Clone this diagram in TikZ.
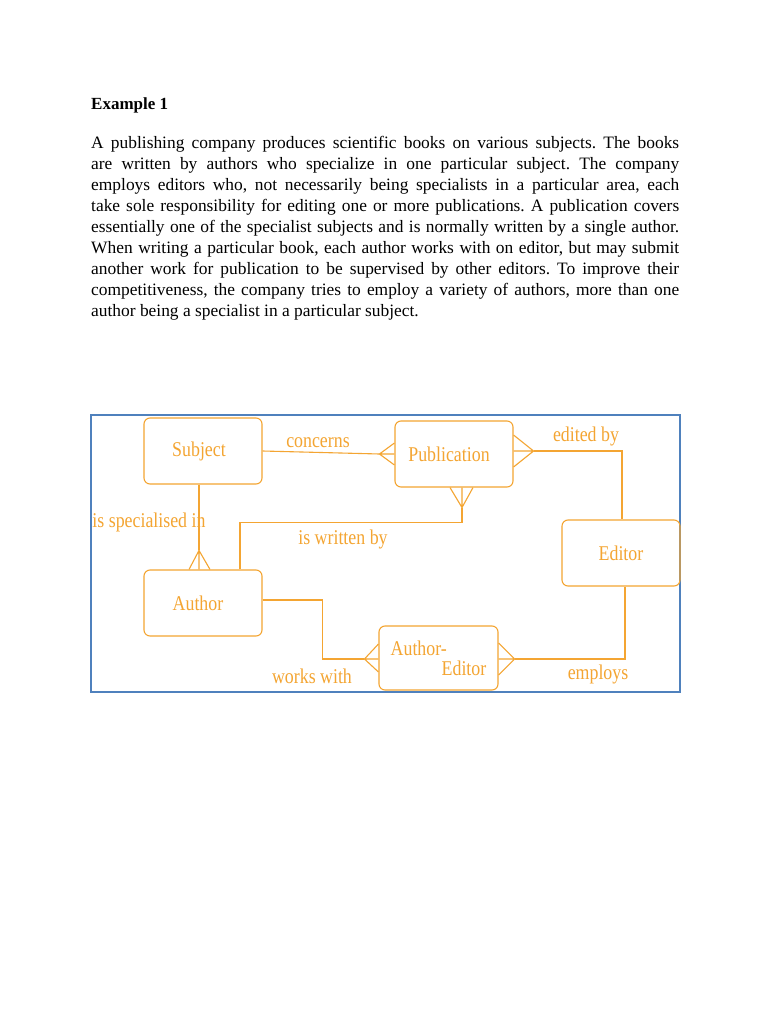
\documentclass[tikz,border=0pt]{standalone}
\usepackage{fontspec}
\setmainfont{Liberation Serif}
\newfontfamily\erfont[FakeStretch=0.85]{Liberation Serif}
\usetikzlibrary{calc}

\definecolor{erorange}{RGB}{244,165,50}
\definecolor{frameblue}{RGB}{79,129,189}

\tikzset{
  entity/.style={draw=erorange, line width=1.1pt, rounded corners=6pt,
    minimum width=118pt, minimum height=66pt, text=erorange,
    font=\erfont\fontsize{21}{20}\selectfont},
  rel/.style={draw=erorange, line width=1.1pt},
  rellabel/.style={text=erorange, inner sep=0pt,
    font=\erfont\fontsize{21}{20}\selectfont},
}

\begin{document}
\begin{tikzpicture}[x=1pt,y=-1pt]
        \path[use as bounding box, fill=white] (0,0) rectangle (768,1024);

        % the exercise text
        \node[anchor=base west, inner sep=0pt, font=\bfseries\fontsize{17}{21}\selectfont] (title) at (91,110) {Example 1};
        \node[anchor=north west, inner sep=0pt, text width=588pt, align=justify,
              font=\frenchspacing\fontsize{17.4}{21}\selectfont] (intro) at (91,136)
              {A publishing company produces scientific books on various subjects. The books\linebreak
               are written by authors who specialize in one particular subject. The company\linebreak
               employs editors who, not necessarily being specialists in a particular area, each\linebreak
               take sole responsibility for editing one or more publications. A publication covers\linebreak
               essentially one of the specialist subjects and is normally written by a single author.\linebreak
               When writing a particular book, each author works with on editor, but may submit\linebreak
               another work for publication to be supervised by other editors. To improve their\linebreak
               competitiveness, the company tries to employ a variety of authors, more than one\linebreak
               author being a specialist in a particular subject.};

        % the diagram
        \draw[frameblue, line width=1.1pt] (91,415) rectangle (680,692);

        \node[entity] (subject) at (203,451) {Subject\hspace*{8pt}};
        \node[entity] (publication) at (454,454) {Publication\hspace*{10pt}};
        \node[entity] (editor) at (621,553) {Editor};
        \node[entity] (author) at (203,603) {Author\hspace*{10pt}};
        \node[entity, minimum width=119pt, minimum height=64pt, align=left] (authorEditor) at (438.5,658) {Author-\\\hspace*{51pt}Editor};

        \node[rellabel] (concernsLabel) at (318,443) {concerns};
        \node[rellabel] (specialisedLabel) at (149,522) {is specialised in};
        \node[rellabel] (writtenLabel) at (343,539) {is written by};
        \node[rellabel] (editedLabel) at (586,436) {edited by};
        \node[rellabel] (worksLabel) at (312,676) {works with};
        \node[rellabel] (employsLabel) at (598,674) {employs};

        % concerns
        \coordinate (concernsTip) at ($(publication.west)+(-15,0)$);
        \draw[rel] (subject.east) -- (concernsTip);
        \draw[rel] ($(publication.west)+(0,-11)$) -- (concernsTip) -- ($(publication.west)+(0,11)$) (concernsTip) -- (publication.west);

        % is specialised in
        \coordinate (specialisedTip) at ($(author.north)+(-4,-19)$);
        \draw[rel] ($(subject.south)+(-4,0)$) -- (specialisedTip);
        \draw[rel] ($(author.north)+(-14,0)$) -- (specialisedTip) -- ($(author.north)+(7,0)$) (specialisedTip) -- ($(author.north)+(-4,0)$);

        % is written by
        \coordinate (writtenTip) at ($(publication.south)+(8,20)$);
        \draw[rel] ($(author.north)+(37,0)$) -- ++(0,-47) -| (writtenTip);
        \draw[rel] ($(publication.south)+(-4,0)$) -- (writtenTip) -- ($(publication.south)+(19,0)$) (writtenTip) -- ($(publication.south)+(8,0)$);

        % edited by
        \coordinate (editedTip) at ($(publication.east)+(20,-3)$);
        \draw[rel] (editedTip) -| ($(editor.north)+(1,0)$);
        \draw[rel] ($(publication.east)+(0,-19)$) -- (editedTip) -- ($(publication.east)+(0,13)$) (editedTip) -- ($(publication.east)+(0,-3)$);

        % works with
        \coordinate (worksTip) at ($(authorEditor.west)+(-14,1)$);
        \draw[rel] ($(author.east)+(0,-3)$) -- ++(60,0) |- (worksTip);
        \draw[rel] ($(authorEditor.west)+(0,-14)$) -- (worksTip) -- ($(authorEditor.west)+(0,14)$) (worksTip) -- ($(authorEditor.west)+(0,1)$);

        % employs
        \coordinate (employsTip) at ($(authorEditor.east)+(16,1)$);
        \draw[rel] (employsTip) -| ($(editor.south)+(4,0)$);
        \draw[rel] ($(authorEditor.east)+(0,-15)$) -- (employsTip) -- ($(authorEditor.east)+(0,17)$) (employsTip) -- ($(authorEditor.east)+(0,1)$);
    \end{tikzpicture}
\end{document}
